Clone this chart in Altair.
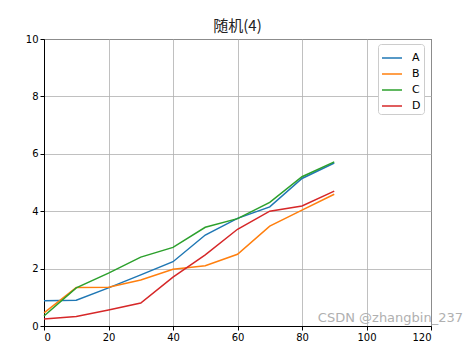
import altair as alt
import pandas as pd

x_vals = [0, 10, 20, 30, 40, 50, 60, 70, 80, 90]
series_a = [0.88, 0.90, 1.33, 1.78, 2.24, 3.17, 3.75, 4.15, 5.14, 5.68]
series_b = [0.46, 1.34, 1.35, 1.60, 1.98, 2.10, 2.50, 3.48, 4.04, 4.59]
series_c = [0.35, 1.33, 1.84, 2.40, 2.74, 3.44, 3.74, 4.31, 5.20, 5.72]
series_d = [0.24, 0.33, 0.56, 0.80, 1.70, 2.48, 3.37, 4.00, 4.18, 4.70]
names = ["A", "B", "C", "D"]
colors = ["#1f77b4", "#ff7f0e", "#2ca02c", "#d62728"]
x_ticks = [0, 20, 40, 60, 80, 100, 120]
y_ticks = [0, 2, 4, 6, 8, 10]
title_text = "随机(4)"
watermark = "CSDN @zhangbin_237"

rows = []
for name, vals in zip(names, [series_a, series_b, series_c, series_d]):
    for xv, yv in zip(x_vals, vals):
        rows.append({"x": xv, "y": yv, "series": name})
df = pd.DataFrame(rows)

lines = alt.Chart(df).mark_line(strokeWidth=1.5).encode(
    x=alt.X("x:Q", scale=alt.Scale(domain=[0, 120], nice=False),
            axis=alt.Axis(values=x_ticks, title=None, format="d")),
    y=alt.Y("y:Q", scale=alt.Scale(domain=[0, 10], nice=False),
            axis=alt.Axis(values=y_ticks, title=None, format="d")),
    color=alt.Color("series:N", scale=alt.Scale(domain=names, range=colors),
                    legend=alt.Legend(title=None, orient="none", legendX=334, legendY=5,
                                      symbolType="stroke", symbolSize=400,
                                      symbolStrokeWidth=1.5, labelFontSize=11,
                                      labelFont="DejaVu Sans", rowPadding=-4,
                                      padding=3, strokeColor="#cccccc",
                                      fillColor="white", cornerRadius=3,
                                      labelOffset=9)),
)

wm = alt.Chart(pd.DataFrame({"t": [watermark]})).mark_text(
    align="right", baseline="middle", fontSize=13, font="DejaVu Sans",
    color="#b0b0b0"
).encode(text="t:N", x=alt.value(419), y=alt.value(279))

chart = alt.layer(lines, wm).properties(
    width=387, height=287,
    padding={"left": 44, "top": 39, "right": 43, "bottom": 36},
    autosize=alt.AutoSizeParams(type="none"),
    title=alt.TitleParams(title_text, fontSize=15, font="Noto Sans CJK SC",
                          fontWeight="normal", offset=0, color="#222222"),
).configure_view(stroke="black", strokeWidth=1).configure_axis(
    grid=True, gridColor="#b0b0b0", gridWidth=0.8,
    domainColor="black", tickColor="black", tickSize=4,
    labelFont="DejaVu Sans", labelFontSize=10, labelColor="black",
    labelPadding=2
).configure_axisX(labelAngle=0)

chart.save("out.html", embed_options={"renderer": "svg", "actions": False})
